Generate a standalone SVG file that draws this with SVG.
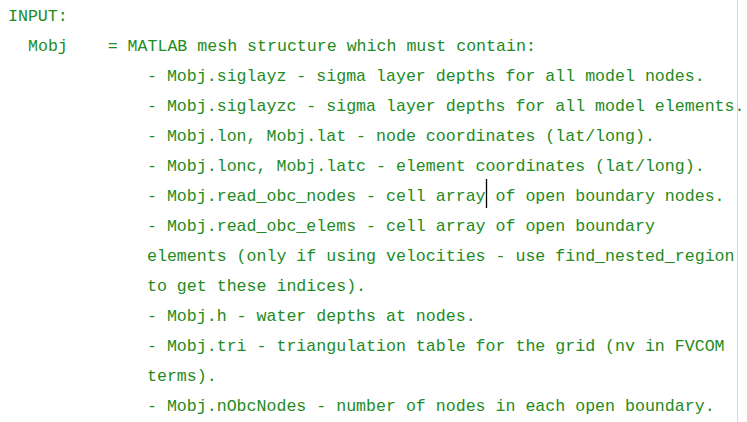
<svg xmlns="http://www.w3.org/2000/svg" width="747" height="422" viewBox="0 0 747 422">
<style>
text{font-family:"Liberation Mono","DejaVu Sans Mono",monospace;font-size:16.6px;fill:#228b22;white-space:pre}
</style>
<rect width="747" height="422" fill="#fff"/>
<line x1="737.5" y1="0" x2="737.5" y2="422" stroke="#d8d8d8" stroke-width="1"/>
<g id="text" xml:space="preserve">
<text x="8" y="21">INPUT:</text>
<text x="28" y="51">Mobj    = MATLAB mesh structure which must contain:</text>
<text x="147" y="81">- Mobj.siglayz - sigma layer depths for all model nodes.</text>
<text x="147" y="111">- Mobj.siglayzc - sigma layer depths for all model elements.</text>
<text x="147" y="141">- Mobj.lon, Mobj.lat - node coordinates (lat/long).</text>
<text x="147" y="171">- Mobj.lonc, Mobj.latc - element coordinates (lat/long).</text>
<text x="147" y="201">- Mobj.read_obc_nodes - cell array of open boundary nodes.</text>
<text x="147" y="231">- Mobj.read_obc_elems - cell array of open boundary</text>
<text x="147" y="261">elements (only if using velocities - use find_nested_region</text>
<text x="147" y="291">to get these indices).</text>
<text x="147" y="321">- Mobj.h - water depths at nodes.</text>
<text x="147" y="351">- Mobj.tri - triangulation table for the grid (nv in FVCOM</text>
<text x="147" y="381">terms).</text>
<text x="147" y="411">- Mobj.nObcNodes - number of nodes in each open boundary.</text>
</g>
<line x1="486.5" y1="179" x2="486.5" y2="208" stroke="#000" stroke-width="1.3"/>
</svg>
